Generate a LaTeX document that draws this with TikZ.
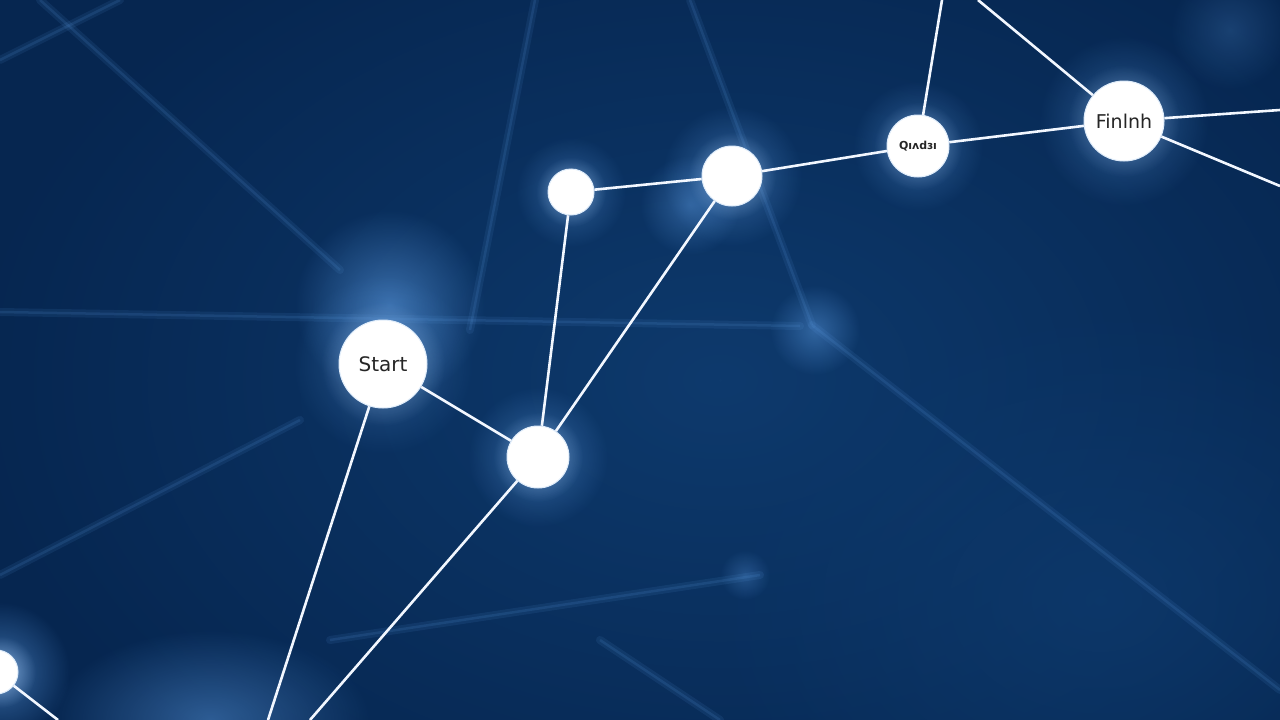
\documentclass[tikz,border=0pt]{standalone}
\usepackage{fontspec}
\setmainfont{DejaVu Sans}
\usetikzlibrary{fadings}
\tikzfading[name=glowfade, inner color=transparent!0, outer color=transparent!100]
\definecolor{bgdark}{HTML}{062650}
\definecolor{bgmid}{HTML}{0E3A6D}
\definecolor{glowblue}{HTML}{5E9EE6}
\definecolor{halo}{HTML}{A9CCF5}
\definecolor{linkcol}{HTML}{F2F7FF}
\definecolor{txt}{HTML}{262626}
\begin{document}
\begin{tikzpicture}[x=1pt,y=-1pt,
  dot/.style={circle, fill=white, draw=white!80!glowblue, line width=1pt, inner sep=0pt, minimum size=#1, text=txt},
  link/.style={draw=linkcol, line width=2.6pt},
  faint/.style={draw=glowblue, opacity=0.10, line width=8pt, line cap=round},
  faintcore/.style={draw=glowblue, opacity=0.14, line width=2.5pt},
  glow/.style={fill=glowblue, path fading=glowfade},
  halo/.style={fill=halo, path fading=glowfade}]
% background
\fill[bgdark] (0,0) rectangle (1280,720);
\useasboundingbox (0,0) rectangle (1280,720);
\begin{scope}
\clip (0,0) rectangle (1280,720);
\fill[bgmid, path fading=glowfade] (720,380) ellipse (760 and 520);
\fill[bgmid, path fading=glowfade, opacity=0.8] (1100,600) ellipse (400 and 300);
% faint background lines
\foreach \p/\q in {{(40,0)}/{(340,270)}, {(0,312)}/{(800,326)}, {(690,0)}/{(812,325)},
  {(812,325)}/{(1280,690)}, {(535,0)}/{(470,330)}, {(330,640)}/{(760,575)},
  {(0,575)}/{(300,420)}, {(0,60)}/{(120,0)}, {(600,640)}/{(720,720)}}{
  \draw[faint] \p -- \q;
  \draw[faintcore] \p -- \q;
}
% glows
\fill[glow, opacity=0.55] (390,305) circle (95);
\fill[glow, opacity=0.35] (383,364) circle (90);
\fill[glow, opacity=0.45] (538,457) circle (70);
\fill[glow, opacity=0.40] (571,192) circle (55);
\fill[glow, opacity=0.45] (732,176) circle (70);
\fill[glow, opacity=0.40] (918,146) circle (65);
\fill[glow, opacity=0.40] (1124,121) circle (85);
\fill[glow, opacity=0.40] (690,205) circle (50);
\fill[glow, opacity=0.45] (815,330) circle (45);
\fill[glow, opacity=0.30] (745,575) circle (25);
\fill[glow, opacity=0.45] (210,720) ellipse (160 and 90);
\fill[glow, opacity=0.55] (0,672) circle (70);
\fill[glow, opacity=0.22] (1230,30) circle (60);
% inner halos
\fill[halo, opacity=0.55] (383,364) circle (62);
\fill[halo, opacity=0.55] (538,457) circle (45);
\fill[halo, opacity=0.55] (571,192) circle (35);
\fill[halo, opacity=0.55] (732,176) circle (44);
\fill[halo, opacity=0.50] (918,146) circle (44);
\fill[halo, opacity=0.50] (1124,121) circle (56);
\fill[halo, opacity=0.65] (0,672) circle (36);
\end{scope}
% nodes
\node[dot=88pt, font=\fontsize{20}{24}\selectfont] (start) at (383,364) {Start};
\node[dot=62pt] (a) at (538,457) {};
\node[dot=46pt] (b) at (571,192) {};
\node[dot=60pt] (c) at (732,176) {};
\node[dot=62pt, font=\bfseries\fontsize{11}{13}\selectfont] (d) at (918,146) {Qıʌdɜı};
\node[dot=80pt, font=\fontsize{19}{22}\selectfont] (finish) at (1124,121) {Finlnh};
\node[dot=44pt] (left) at (-4,672) {};
% free ends
\coordinate (e1) at (268,720);
\coordinate (e2) at (310,720);
\coordinate (e3) at (942,0);
\coordinate (e4) at (978,0);
\coordinate (e5) at (1280,110);
\coordinate (e6) at (1280,186);
\coordinate (e7) at (58,720);
% connectors
\begin{scope}
\clip (0,0) rectangle (1280,720);
\draw[link] (start) -- (a);
\draw[link] (start) -- (e1);
\draw[link] (a) -- (b);
\draw[link] (a) -- (c);
\draw[link] (a) -- (e2);
\draw[link] (b) -- (c);
\draw[link] (c) -- (d);
\draw[link] (d) -- (finish);
\draw[link] (d) -- (e3);
\draw[link] (finish) -- (e4);
\draw[link] (finish) -- (e5);
\draw[link] (finish) -- (e6);
\draw[link] (left) -- (e7);
\end{scope}
\end{tikzpicture}
\end{document}
